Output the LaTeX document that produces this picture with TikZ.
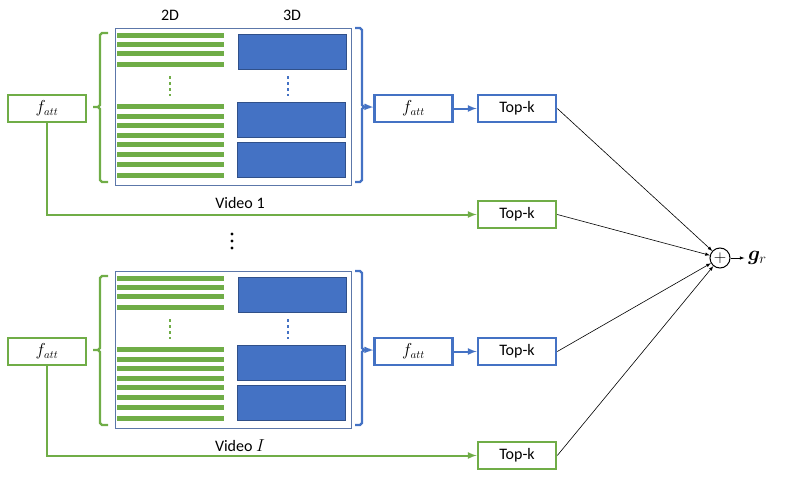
\documentclass[tikz,border=0pt]{standalone}
\usepackage{amsmath,amssymb,bm}
\usepackage{fontspec}
\setmainfont{Carlito}
\usetikzlibrary{positioning,calc}
\definecolor{vgreen}{HTML}{70AD47}
\definecolor{vblue}{HTML}{4472C4}
\begin{document}
\begin{tikzpicture}[x=1pt,y=-1pt,
  box/.style={draw,line width=2.6pt,minimum width=78pt,minimum height=27pt,inner sep=0pt,font=\fontsize{16}{19}\selectfont},
  gbar/.style={fill=vgreen,draw=none},
  bblk/.style={fill=vblue,draw=vblue!70!black,line width=0.6pt},
  conn/.style={->,>=latex,line width=2pt},
  lbl/.style={font=\fontsize{16}{19}\selectfont}]
  \useasboundingbox (0,0) rectangle (807,477);
  \node[lbl] at (170,15) {2D};
  \node[lbl] at (292,15) {3D};
  \foreach \dy/\vid/\n in {0/1/a,243/{$I$}/b} {
    \begin{scope}[yshift=-\dy]
      \draw[vblue!60!gray,line width=1pt] (115,28) rectangle (351,185);
      \foreach \y in {35,44,53,64,106,116,125,135,144,154,164,175}
        \fill[gbar] (117,\y-2.5) rectangle (224,\y+2.5);
      \draw[vgreen,line width=2.5pt,dash pattern=on 3pt off 3pt] (170,76) -- (170,96);
      \draw[vblue,line width=2.5pt,dash pattern=on 3pt off 3pt] (288,76) -- (288,96);
      \draw[bblk] (238,34) rectangle (346,69);
      \draw[bblk] (237,102) rectangle (345,137);
      \draw[bblk] (237,142) rectangle (345,177);
      \draw[vgreen,line width=2.4pt] (108,33) -- (102,33) -- (100,35) -- (100,105) -- (98,107) -- (93,107)
        (98,107) -- (100,109) -- (100,180) -- (102,182) -- (108,182);
      \draw[vblue,line width=2.4pt] (355,28) -- (360,28) -- (362,30) -- (362,105) -- (364,107) -- (370,107)
        (364,107) -- (362,109) -- (362,180) -- (360,182) -- (355,182);
      \node[lbl] at (240,203) {Video \vid};
    \end{scope}
  }
  % top video
  \node[box,draw=vgreen] (fa) at (47,108.5) {$f_{att}$};
  \node[box,draw=vblue] (fb) at (413.5,108.5) {$f_{att}$};
  \node[box,draw=vblue] (ta) at (517,108.5) {Top-k};
  \node[box,draw=vgreen] (tb) at (517,214.5) {Top-k};
  % bottom video
  \node[box,draw=vgreen] (fc) at (47,351.5) {$f_{att}$};
  \node[box,draw=vblue] (fd) at (413.5,351.5) {$f_{att}$};
  \node[box,draw=vblue] (tc) at (517,351.5) {Top-k};
  \node[box,draw=vgreen] (td) at (517,455.5) {Top-k};
  \foreach \y in {234,241,248}
    \fill (232,\y) circle (1.7pt);
  \node[draw,circle,line width=1pt,inner sep=0pt,minimum size=20pt,lbl] (sum) at (720,258) {$+$};
  \node[right=14pt of sum,font=\fontsize{20}{22}\selectfont] (g) {$\bm{g}_r$};
  \coordinate (ca) at (370,107);
  \coordinate (cb) at (370,350);
  \draw[conn,vblue] (ca) -- (fb);
  \draw[conn,vblue] (cb) -- (fd);
  \draw[conn,vblue] (fb) -- (ta);
  \draw[conn,vblue] (fd) -- (tc);
  \draw[conn,vgreen] (fa.south) |- (tb);
  \draw[conn,vgreen] (fc.south) |- (td);
  \foreach \t in {ta,tb,tc,td}
    \draw[->,>=latex,line width=0.6pt] (\t.east) -- (sum);
  \draw[->,>=latex,line width=0.6pt] (sum) -- (g);
\end{tikzpicture}
\end{document}
